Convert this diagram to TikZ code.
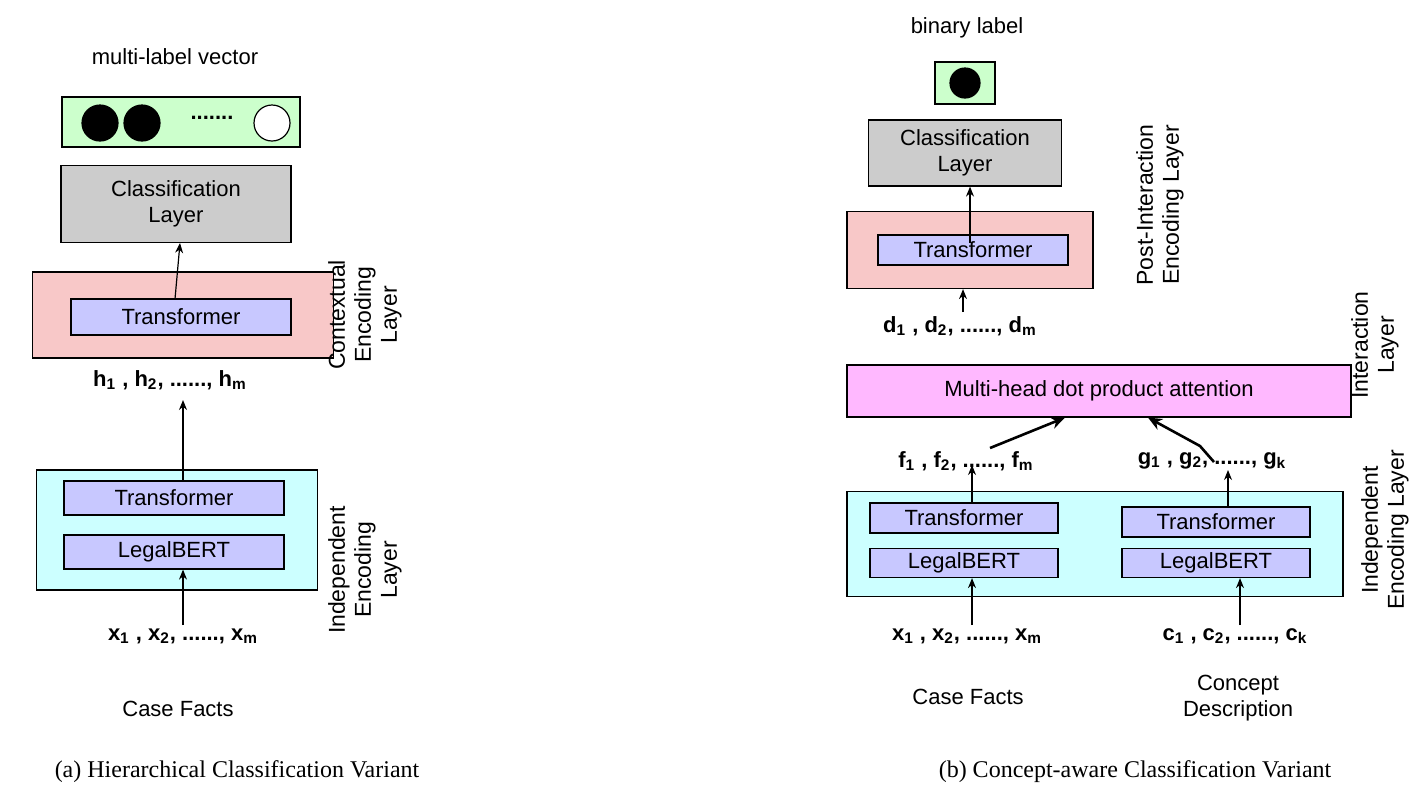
\documentclass[tikz,border=0pt]{standalone}
\usepackage{fontspec}
\setmainfont{Liberation Serif}
\newfontfamily\diagfont{Liberation Sans}
\usetikzlibrary{arrows.meta}
\definecolor{gbox}{HTML}{CCFFCC}
\definecolor{grbox}{HTML}{CCCCCC}
\definecolor{rbox}{HTML}{F8C8C8}
\definecolor{bbox}{HTML}{C8C8FF}
\definecolor{cbox}{HTML}{CCFFFF}
\definecolor{mbox}{HTML}{FFB8FF}
\begin{document}
\begin{tikzpicture}[x=0.5pt,y=-0.5pt,
  every node/.style={font=\diagfont\fontsize{11}{13}\selectfont},
  box/.style={draw=black, line width=0.6pt, inner sep=0pt},
  txt/.style={align=center},
  rot/.style={rotate=90, align=center, font=\diagfont\fontsize{11.5}{13}\selectfont},
  seq/.style={font=\diagfont\bfseries\fontsize{11}{13}\selectfont},
  captxt/.style={font=\rmfamily\fontsize{12}{14}\selectfont},
  arr/.style={-{Stealth[length=5pt,width=4pt]}, line width=0.6pt},
  tarr/.style={-{Stealth[length=7pt,width=6pt]}, line width=1.3pt},
  dot/.style={circle, draw=black, line width=0.6pt, minimum size=18pt, inner sep=0pt}
]
\useasboundingbox (0,0) rectangle (1427,789);

% (a) hierarchical
\node (mlv) at (175,57) {multi-label vector};
\node[box, fill=gbox, minimum width=119pt, minimum height=25pt] (ga) at (181,122) {};
\node[dot, fill=black] (c1) at (100,123) {};
\node[dot, fill=black] (c2) at (142,123) {};
\node[seq] (cd) at (212,118) {.......};
\node[dot, fill=white] (c3) at (272,123) {};
\node[box, fill=grbox, minimum width=115pt, minimum height=38.5pt, txt] (cla) at (176,204) {Classification\\Layer};
\node[box, fill=rbox, minimum width=150.5pt, minimum height=43pt] (ra) at (183,315) {};
\node[box, fill=bbox, minimum width=110pt, minimum height=18pt] (ta) at (181,317) {Transformer};
\node[seq] (ha) at (170,380) {h\textsubscript{1} , h\textsubscript{2}, ......, h\textsubscript{m}};
\node[box, fill=cbox, minimum width=140.5pt, minimum height=60pt] (ia) at (177,530) {};
\node[box, fill=bbox, minimum width=110pt, minimum height=17pt] (tb) at (174,498) {Transformer};
\node[box, fill=bbox, minimum width=110pt, minimum height=17pt] (lb) at (174,552) {LegalBERT};
\node[seq] (xa) at (183,636) {x\textsubscript{1} , x\textsubscript{2}, ......, x\textsubscript{m}};
\node (cfa) at (178,709) {Case Facts};
\node[rot] (lca) at (365,315) {Contextual\\Encoding\\Layer};
\node[rot] (lia) at (365,570) {Independent\\Encoding\\Layer};
\node[captxt] (capa) at (237,772) {(a) Hierarchical Classification Variant};
\coordinate (xat) at (183,625);
\coordinate (hab) at (183,400);
\coordinate (tat) at (175,299);
\coordinate (clab) at (180,243);
\draw[arr] (xat) -- (lb.south -| xat);
\draw[arr] (tb.north -| hab) -- (hab);
\draw[arr] (tat) -- (clab);

% (b) concept-aware
\node (bl) at (967,28) {binary label};
\node[box, fill=gbox, minimum width=30pt, minimum height=21pt] (gb) at (965,83) {};
\node[dot, fill=black, minimum size=15pt] (c4) at (965,83) {};
\node[box, fill=grbox, minimum width=96.5pt, minimum height=33pt, txt] (clb) at (965,153) {Classification\\Layer};
\node[box, fill=rbox, minimum width=123pt, minimum height=38.5pt] (rb) at (970,250) {};
\node[box, fill=bbox, minimum width=95pt, minimum height=15pt] (tc) at (973,250) {Transformer};
\node[seq] (db) at (960,326) {d\textsubscript{1} , d\textsubscript{2}, ......, d\textsubscript{m}};
\node[box, fill=mbox, minimum width=252pt, minimum height=26pt] (mh) at (1099,391) {Multi-head dot product attention};
\node[seq] (fb) at (966,461) {f\textsubscript{1} , f\textsubscript{2}, ......, f\textsubscript{m}};
\node[seq] (gbs) at (1212,461) {g\textsubscript{1} , g\textsubscript{2}, ......, g\textsubscript{k}};
\node[box, fill=cbox, minimum width=248pt, minimum height=52.5pt] (ib) at (1095,544) {};
\node[box, fill=bbox, minimum width=94pt, minimum height=15pt] (td) at (964,518) {Transformer};
\node[box, fill=bbox, minimum width=94pt, minimum height=15pt] (te) at (1216,522) {Transformer};
\node[box, fill=bbox, minimum width=94pt, minimum height=14.5pt] (ld) at (964,563) {LegalBERT};
\node[box, fill=bbox, minimum width=94pt, minimum height=14.5pt] (le) at (1216,563) {LegalBERT};
\node[seq] (xb) at (967,636) {x\textsubscript{1} , x\textsubscript{2}, ......, x\textsubscript{m}};
\node[seq] (cb) at (1235,636) {c\textsubscript{1} , c\textsubscript{2}, ......, c\textsubscript{k}};
\node (cfb) at (968,697) {Case Facts};
\node[txt] (cdb) at (1238,698) {Concept\\Description};
\node[rot] (lpb) at (1160,205) {Post-Interaction\\Encoding Layer};
\node[rot] (lib) at (1375,345) {Interaction\\Layer};
\node[rot] (lieb) at (1385,530) {Independent\\Encoding Layer};
\node[captxt] (capb) at (1135,772) {(b) Concept-aware Classification Variant};
\coordinate (xbt) at (972,625);
\coordinate (cbt) at (1240,625);
\coordinate (fbt) at (972,465);
\coordinate (gbt) at (1228,470);
\coordinate (dbt) at (963,312);
\coordinate (tct) at (970,243);
\coordinate (fbe) at (990,448);
\coordinate (gbe) at (1214,462);
\coordinate (gbm) at (1200,446);
\draw[arr] (xbt) -- (ld.south -| xbt);
\draw[arr] (cbt) -- (le.south -| cbt);
\draw[arr] (td.north -| fbt) -- (fbt);
\draw[arr] (te.north -| gbt) -- (gbt);
\draw[arr] (dbt) -- (rb.south -| dbt);
\draw[arr] (tct) -- (clb.south -| tct);
\draw[tarr] (fbe) -- (mh.south -| 1065,0);
\draw[tarr] (gbe) -- (gbm) -- (mh.south -| 1148,0);
\end{tikzpicture}
\end{document}
